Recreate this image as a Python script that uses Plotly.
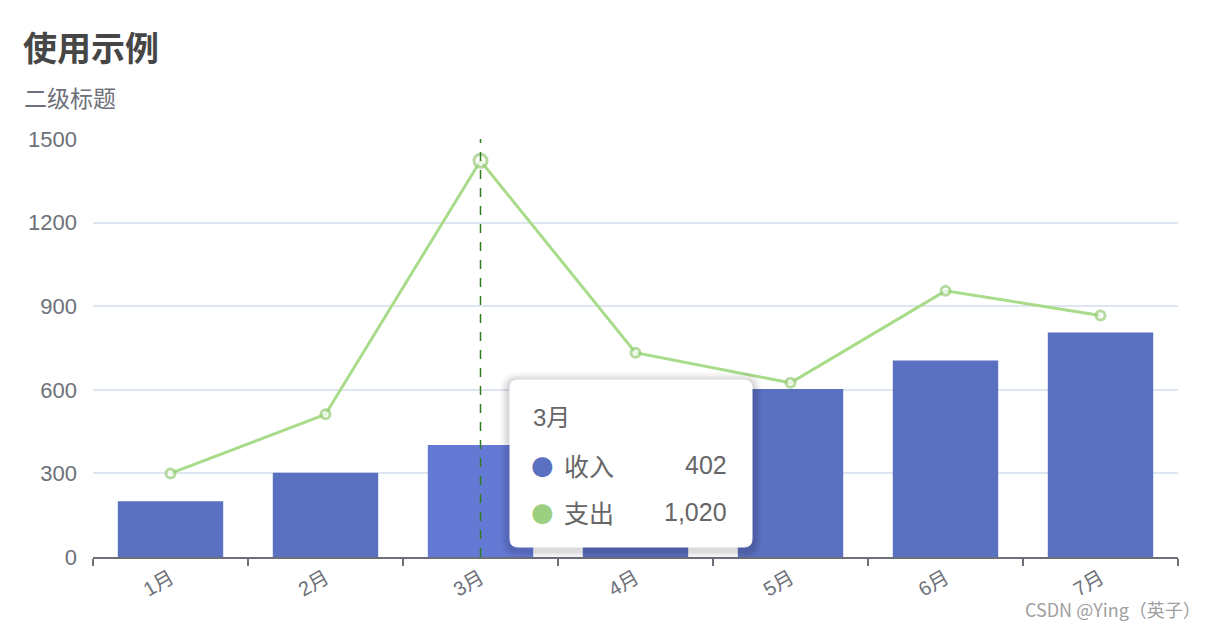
import plotly.graph_objects as go
import numpy as np

# data
months = ["1月", "2月", "3月", "4月", "5月", "6月", "7月"]
income = [200, 302, 402, 502, 603, 705, 806]      # 收入 (bar)
expense = [100, 210, 1020, 231, 22, 250, 61]      # 支出 (line, stacked on 收入)
y_ticks = [0, 300, 600, 900, 1200, 1500]
hover_idx = 2                                     # 3月 is the hovered category

FONT = "Noto Sans CJK SC"
TICK_FONT = "Liberation Sans, Noto Sans CJK SC"
GREY = "#6e7079"

stacked = np.array(income) + np.array(expense)

bar_colors = ["#5a70c0"] * len(months)
bar_colors[hover_idx] = "#6479d4"

fig = go.Figure()
fig.add_trace(go.Bar(
    x=months, y=income, name="收入",
    marker=dict(color=bar_colors, line=dict(width=0)),
))
fig.add_trace(go.Scatter(
    x=months, y=stacked, name="支出", mode="lines+markers",
    line=dict(color="#a8dc8a", width=3),
    marker=dict(symbol="circle", size=[9, 9, 13, 9, 9, 9, 9], color="white",
                line=dict(color="#98cc7a", width=3)),
))

# plot area in page pixels (page body has an 8px margin)
OFF = 8
L, R, T, B = 93, 36, 139, 73
W, H = 1214 - L - R, 630 - T - B

def px(x):
    return (x - L) / W

def py(y):
    return (630 - B - y) / H

def rounded(x0, y0, x1, y1, r):
    rx, ry = r / W, r / H
    a, b, c, d = px(x0), py(y1), px(x1), py(y0)
    return (f"M {a+rx},{b} L {c-rx},{b} Q {c},{b} {c},{b+ry} L {c},{d-ry} "
            f"Q {c},{d} {c-rx},{d} L {a+rx},{d} Q {a},{d} {a},{d-ry} "
            f"L {a},{b+ry} Q {a},{b} {a+rx},{b} Z")

shapes = [
    # dashed axis pointer
    dict(type="line", xref="x", yref="paper", x0=months[hover_idx], x1=months[hover_idx],
         y0=0, y1=1, line=dict(color="#2f7d1f", width=1.5, dash="dash"), layer="above"),
]
# soft shadow + tooltip box
for i, alpha in enumerate([0.02, 0.03, 0.04, 0.05]):
    g = 10 - 2 * i
    shapes.append(dict(type="path", xref="paper", yref="paper",
                       path=rounded(510 - g, 380 - g + 2, 752 + g, 547 + g + 2, 8 + g),
                       fillcolor=f"rgba(0,0,0,{alpha})", line=dict(width=0), layer="above"))
shapes.append(dict(type="path", xref="paper", yref="paper",
                   path=rounded(510, 380, 752, 547, 8),
                   fillcolor="white", line=dict(color="white", width=1), layer="above"))

annotations = [
    dict(text="<b>使用示例</b>", x=px(21), y=py(47), xref="paper", yref="paper",
         xanchor="left", yanchor="middle", showarrow=False,
         font=dict(family=FONT, size=34, color="#464646")),
    dict(text="二级标题", x=px(22), y=py(97), xref="paper", yref="paper",
         xanchor="left", yanchor="middle", showarrow=False,
         font=dict(family=FONT, size=23, color=GREY)),
    dict(text="CSDN @Ying（英子）", x=px(1203), y=py(609), xref="paper", yref="paper",
         xanchor="right", yanchor="middle", showarrow=False,
         font=dict(family=FONT, size=18, color="#a0a0a0")),
]

# tooltip contents
tip_font = dict(family=FONT, size=25, color="#666666")
val_font = dict(family=TICK_FONT, size=25, color="#666666")
annotations.append(dict(text=months[hover_idx], x=px(531), y=py(417), xref="paper", yref="paper",
                        xanchor="left", yanchor="middle", showarrow=False,
                        font=dict(family=TICK_FONT, size=24, color="#666666")))
rows = [("收入", f"{income[hover_idx]:,}", "#5a70c0", 465),
        ("支出", f"{expense[hover_idx]:,}", "#9ccf7f", 512)]
for label, val, col, yy in rows:
    annotations.append(dict(text="●", x=px(542), y=py(yy), xref="paper", yref="paper",
                            xanchor="center", yanchor="middle", showarrow=False,
                            font=dict(family="DejaVu Sans", size=26, color=col)))
    annotations.append(dict(text=label, x=px(562), y=py(yy), xref="paper", yref="paper",
                            xanchor="left", yanchor="middle", showarrow=False, font=tip_font))
    annotations.append(dict(text=val, x=px(729), y=py(yy), xref="paper", yref="paper",
                            xanchor="right", yanchor="middle", showarrow=False, font=val_font))

fig.update_layout(
    width=1214 - OFF, height=630 - OFF,
    margin=dict(l=L - OFF, r=R, t=T - OFF, b=B),
    plot_bgcolor="white", paper_bgcolor="white",
    showlegend=False, bargap=0.32,
    font=dict(family=FONT, color=GREY),
    shapes=shapes, annotations=annotations,
)
fig.update_xaxes(
    type="category", tickson="boundaries", ticks="outside", ticklen=7,
    tickcolor=GREY, tickwidth=1.5, showline=True, linecolor=GREY, linewidth=1.5,
    showgrid=False, tickangle=-30, tickfont=dict(family=TICK_FONT, size=20, color=GREY),
)
fig.update_yaxes(
    range=[0, 1500], tickvals=y_ticks, showgrid=True, gridcolor="#e0e6f1",
    gridwidth=1.5, zeroline=False, showline=False,
    tickfont=dict(family=TICK_FONT, size=22, color=GREY), ticklabelstandoff=15,
)

fig.write_html("out.html")
